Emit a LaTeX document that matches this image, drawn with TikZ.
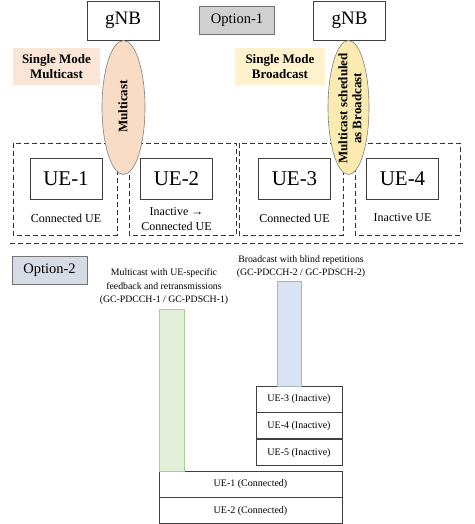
\documentclass[tikz,border=0pt]{standalone}
\usepackage{fontspec}
\setmainfont{Liberation Serif}
\usetikzlibrary{positioning, shapes.geometric}

\definecolor{peachfill}{HTML}{FBE5D6}
\definecolor{peachell}{HTML}{F8DCC6}
\definecolor{yellowfill}{HTML}{FFF2CC}
\definecolor{yellowell}{HTML}{FCEBB0}
\definecolor{optfill}{HTML}{D0D0D0}
\definecolor{opt2fill}{HTML}{D6DCE5}
\definecolor{greenfill}{HTML}{E2F0D9}
\definecolor{greenline}{HTML}{A9D18E}
\definecolor{bluefill}{HTML}{DAE3F3}
\definecolor{blueline}{HTML}{A6B4C8}

\tikzset{
  solidbox/.style={draw=black!75, line width=0.8pt, inner sep=0pt},
  gnbbox/.style={solidbox, minimum width=72pt, minimum height=39pt, font=\fontsize{19}{22}\selectfont},
  uebox/.style={solidbox, minimum width=72pt, minimum height=41pt, font=\fontsize{21}{24}\selectfont},
  optbox/.style={draw=black!55, line width=0.8pt, minimum width=75pt, minimum height=28pt, inner sep=0pt, font=\fontsize{14.5}{17}\selectfont},
  modebox/.style={minimum height=37pt, inner sep=0pt, align=center, font=\fontsize{13}{15}\selectfont\bfseries},
  castell/.style={ellipse, draw=black!50, line width=0.6pt, minimum height=134pt, inner sep=0pt},
  casttext/.style={rotate=90, inner sep=0pt, align=center, font=\fontsize{13}{14}\selectfont\bfseries},
  grpbox/.style={draw=black!80, line width=1pt, dash pattern=on 5pt off 3pt},
  uelabel/.style={align=center, font=\fontsize{12}{15}\selectfont},
  smalltext/.style={align=center, font=\fontsize{9.8}{13.5}\selectfont},
  stackbox/.style={solidbox, minimum height=26pt, font=\fontsize{10}{12}\selectfont},
  bar/.style={line width=0.8pt}
}

\begin{document}
\begin{tikzpicture}[x=1pt, y=-1pt]
\useasboundingbox (0,0) rectangle (474,524);

\draw[grpbox] (13,143) rectangle (117,235);
\draw[grpbox] (129,143) rectangle (236,235);
\draw[grpbox] (239,143) rectangle (343,235);
\draw[grpbox] (355,143) rectangle (460,235);
\draw[grpbox] (10,243) -- (465,243);

\node[gnbbox] (gnbA) at (123,20.5) {gNB};
\node[gnbbox] (gnbB) at (349.5,20.5) {gNB};
\node[optbox, fill=optfill] (opt1) at (237,20.5) {Option-1};

\node[modebox, fill=peachfill, minimum width=87pt] (smm) at (56.5,66.5) {Single Mode\\Multicast};
\node[modebox, fill=yellowfill, minimum width=90pt] (smb) at (280,66.5) {Single Mode\\Broadcast};

\node[castell, fill=peachell, minimum width=43pt] (mcast) at (123.5,107.5) {};
\node[casttext] (mcastlbl) at (123,106.5) {Multicast};
\node[castell, fill=yellowell, minimum width=41pt] (bcast) at (348.5,107.5) {};
\node[casttext] (bcastlbl) at (350,108.5) {Multicast scheduled\\as Broadcast};

\node[uebox] (ue1) at (66,178.5) {UE-1};
\node[uebox] (ue2) at (176.5,178.5) {UE-2};
\node[uebox] (ue3) at (294.5,178.5) {UE-3};
\node[uebox] (ue4) at (402.5,178.5) {UE-4};

\node[uelabel] (ue1lbl) at (66,218) {Connected UE};
\node[uelabel] (ue2lbl) at (176.5,219) {Inactive →\\Connected UE};
\node[uelabel] (ue3lbl) at (294.5,218) {Connected UE};
\node[uelabel] (ue4lbl) at (402.5,218) {Inactive UE};

\node[optbox, fill=opt2fill] (opt2) at (49.5,270) {Option-2};

\node[smalltext] (mctext) at (164,287) {Multicast with UE-specific\\feedback and retransmissions\\(GC-PDCCH-1 / GC-PDSCH-1)};
\node[smalltext] (bctext) at (301,266.5) {Broadcast with blind repetitions\\(GC-PDCCH-2 / GC-PDSCH-2)};

\node[stackbox, minimum width=86pt] (ue3i) at (299,399) {UE-3 (Inactive)};
\node[stackbox, minimum width=86pt, below=0pt of ue3i] (ue4i) {UE-4 (Inactive)};
\node[stackbox, minimum width=86pt, below=0pt of ue4i] (ue5i) {UE-5 (Inactive)};
\node[stackbox, minimum width=183pt] (ue1c) at (250.5,484) {UE-1 (Connected)};
\node[stackbox, minimum width=183pt, below=0pt of ue1c] (ue2c) {UE-2 (Connected)};

\draw[bar, draw=greenline, fill=greenfill] (159,309) rectangle (184,471);
\draw[bar, draw=blueline, fill=bluefill] (277,281) rectangle (301,386);
\end{tikzpicture}
\end{document}
